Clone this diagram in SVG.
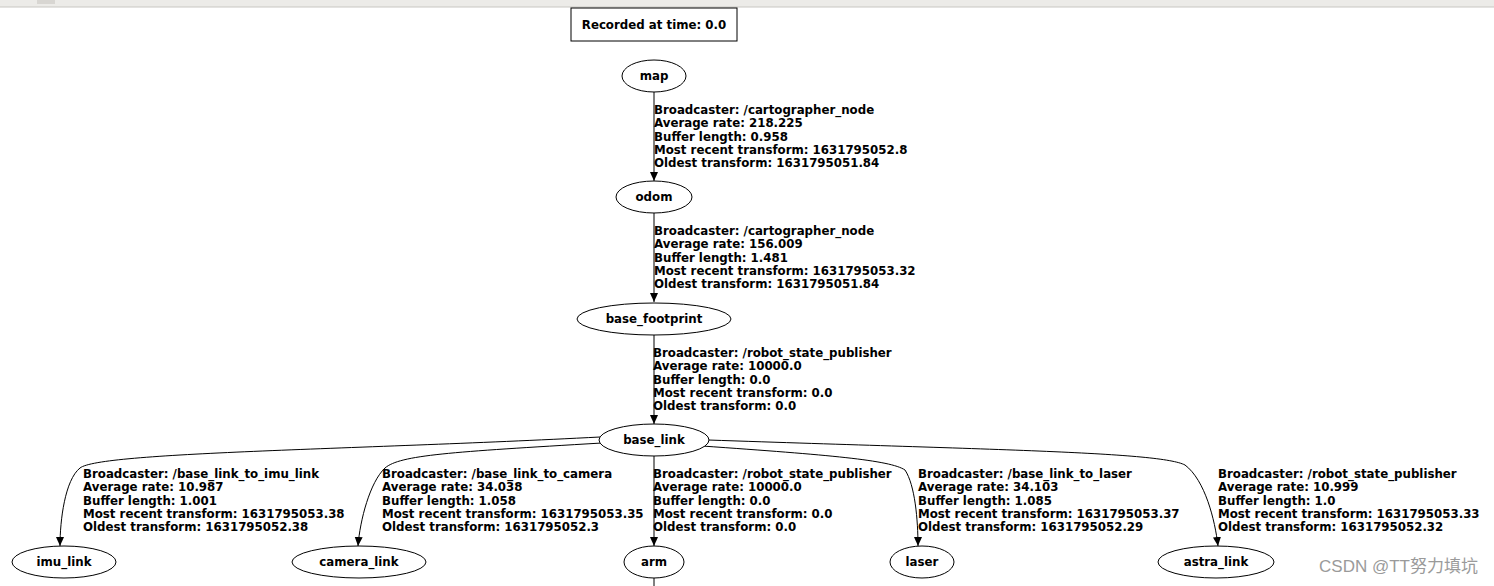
<svg xmlns="http://www.w3.org/2000/svg" width="1494" height="586" viewBox="0 0 1494 586">
<style>
text{font-family:"DejaVu Sans",sans-serif;font-weight:bold;font-size:11.8px;fill:#000}
.n ellipse{fill:#fff;stroke:#000;stroke-width:1}
.n text{text-anchor:middle}
.e path{fill:none;stroke:#000;stroke-width:1}
</style>
<defs><marker id="a" markerWidth="10" markerHeight="10" refX="9" refY="5" orient="auto" markerUnits="userSpaceOnUse"><path d="M0,1 L9,5 L0,9 Z" fill="#000"/></marker></defs>
<rect width="1494" height="586" fill="#fff"/>
<rect width="1494" height="7" fill="#ecebe8"/>
<line x1="0" y1="7" x2="1494" y2="7" stroke="#c8c6c2"/>
<rect x="37" y="0" width="18" height="4" fill="#d8d6d2"/>
<g id="title"><rect x="571" y="8" width="166" height="33" fill="#fff" stroke="#000"/><text x="654" y="29" text-anchor="middle">Recorded at time: 0.0</text></g>
<g class="e" id="connectors">
<path d="M654,92 V181" marker-end="url(#a)"/>
<path d="M654,213 V302" marker-end="url(#a)"/>
<path d="M654,335 V424" marker-end="url(#a)"/>
<path d="M654,456 V546" marker-end="url(#a)"/>
<path d="M600,437 C350,450 100,452 80,468 C65,480 60,520 60,546" marker-end="url(#a)"/>
<path d="M602,443 C450,452 400,455 385,468 C370,482 360,520 358,546" marker-end="url(#a)"/>
<path d="M702,446 C830,455 890,460 905,470 C915,485 918,520 918,546" marker-end="url(#a)"/>
<path d="M708,440 C1000,450 1160,452 1185,465 C1205,480 1215,520 1218,546" marker-end="url(#a)"/>
<path d="M654,578 V586"/>
</g>
<g id="labels">
<text x="654" y="114">Broadcaster: /cartographer_node<tspan x="654" dy="13.3">Average rate: 218.225</tspan><tspan x="654" dy="13.3">Buffer length: 0.958</tspan><tspan x="654" dy="13.3">Most recent transform: 1631795052.8</tspan><tspan x="654" dy="13.3">Oldest transform: 1631795051.84</tspan></text>
<text x="654" y="235">Broadcaster: /cartographer_node<tspan x="654" dy="13.3">Average rate: 156.009</tspan><tspan x="654" dy="13.3">Buffer length: 1.481</tspan><tspan x="654" dy="13.3">Most recent transform: 1631795053.32</tspan><tspan x="654" dy="13.3">Oldest transform: 1631795051.84</tspan></text>
<text x="653" y="357">Broadcaster: /robot_state_publisher<tspan x="653" dy="13.3">Average rate: 10000.0</tspan><tspan x="653" dy="13.3">Buffer length: 0.0</tspan><tspan x="653" dy="13.3">Most recent transform: 0.0</tspan><tspan x="653" dy="13.3">Oldest transform: 0.0</tspan></text>
<text x="83" y="478">Broadcaster: /base_link_to_imu_link<tspan x="83" dy="13.3">Average rate: 10.987</tspan><tspan x="83" dy="13.3">Buffer length: 1.001</tspan><tspan x="83" dy="13.3">Most recent transform: 1631795053.38</tspan><tspan x="83" dy="13.3">Oldest transform: 1631795052.38</tspan></text>
<text x="382" y="478">Broadcaster: /base_link_to_camera<tspan x="382" dy="13.3">Average rate: 34.038</tspan><tspan x="382" dy="13.3">Buffer length: 1.058</tspan><tspan x="382" dy="13.3">Most recent transform: 1631795053.35</tspan><tspan x="382" dy="13.3">Oldest transform: 1631795052.3</tspan></text>
<text x="653" y="478">Broadcaster: /robot_state_publisher<tspan x="653" dy="13.3">Average rate: 10000.0</tspan><tspan x="653" dy="13.3">Buffer length: 0.0</tspan><tspan x="653" dy="13.3">Most recent transform: 0.0</tspan><tspan x="653" dy="13.3">Oldest transform: 0.0</tspan></text>
<text x="918" y="478">Broadcaster: /base_link_to_laser<tspan x="918" dy="13.3">Average rate: 34.103</tspan><tspan x="918" dy="13.3">Buffer length: 1.085</tspan><tspan x="918" dy="13.3">Most recent transform: 1631795053.37</tspan><tspan x="918" dy="13.3">Oldest transform: 1631795052.29</tspan></text>
<text x="1218" y="478">Broadcaster: /robot_state_publisher<tspan x="1218" dy="13.3">Average rate: 10.999</tspan><tspan x="1218" dy="13.3">Buffer length: 1.0</tspan><tspan x="1218" dy="13.3">Most recent transform: 1631795053.33</tspan><tspan x="1218" dy="13.3">Oldest transform: 1631795052.32</tspan></text>
</g>
<g class="n" id="map"><ellipse cx="654" cy="76" rx="32" ry="16"/><text x="654" y="80">map</text></g>
<g class="n" id="odom"><ellipse cx="654" cy="197" rx="38" ry="16"/><text x="654" y="201">odom</text></g>
<g class="n" id="base_footprint"><ellipse cx="654" cy="319" rx="77" ry="16"/><text x="654" y="323">base_footprint</text></g>
<g class="n" id="base_link"><ellipse cx="654" cy="440" rx="55" ry="16"/><text x="654" y="444">base_link</text></g>
<g class="n" id="imu_link"><ellipse cx="64" cy="562" rx="52" ry="16"/><text x="64" y="566">imu_link</text></g>
<g class="n" id="camera_link"><ellipse cx="359" cy="562" rx="67" ry="16"/><text x="359" y="566">camera_link</text></g>
<g class="n" id="arm"><ellipse cx="654" cy="562" rx="30" ry="16"/><text x="654" y="566">arm</text></g>
<g class="n" id="laser"><ellipse cx="922" cy="562" rx="32" ry="16"/><text x="922" y="566">laser</text></g>
<g class="n" id="astra_link"><ellipse cx="1216" cy="562" rx="58" ry="16"/><text x="1216" y="566">astra_link</text></g>
<text x="1478" y="572" text-anchor="end" style="font-family:'Liberation Sans','Noto Sans CJK SC',sans-serif;font-weight:normal;font-size:17px;fill:#9a9a9a">CSDN @TT努力填坑</text>
</svg>
